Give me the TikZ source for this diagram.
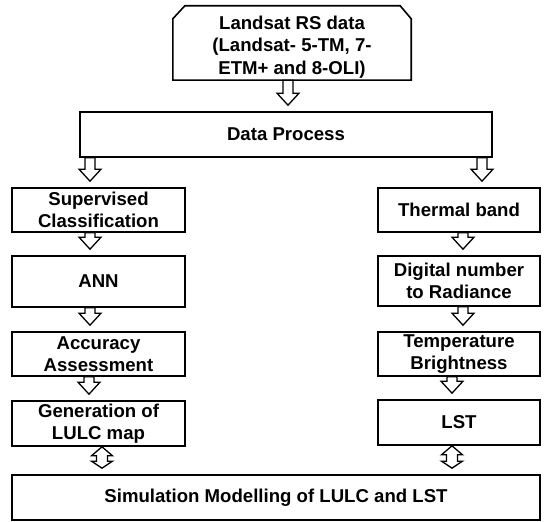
\documentclass[tikz,border=0pt]{standalone}
\usepackage{fontspec}
\setmainfont{Liberation Sans}
\usetikzlibrary{calc}
\tikzset{
  box/.style={draw=black, line width=1.6pt, fill=white, align=center, inner sep=0pt,
    font=\fontsize{18.6}{22.3}\selectfont\bfseries},
  lbl/.style={align=center, inner sep=0pt, font=\fontsize{18.6}{22.3}\selectfont\bfseries},
  blk/.style={draw=black, line width=1.3pt, fill=white, line join=miter},
}
% single block arrow: x, from node, to node
\newcommand\barrow[3]{%
  \draw[blk] let \p1=(#2.south), \p2=(#3.north) in
    (#1-5,\y1) -- (#1-5,\y2+18) -- (#1-11,\y2+18) -- (#1,\y2+6)
    -- (#1+11,\y2+18) -- (#1+5,\y2+18) -- (#1+5,\y1) -- cycle;}
% double block arrow: x, upper node, lower node
\newcommand\dbarrow[3]{%
  \draw[blk] let \p1=(#2.south), \p2=(#3.north) in
    (#1,\y1) -- (#1+10.5,\y1-9) -- (#1+5.5,\y1-9) -- (#1+5.5,\y2+13)
    -- (#1+10.5,\y2+13) -- (#1,\y2+6) -- (#1-10.5,\y2+13) -- (#1-5.5,\y2+13)
    -- (#1-5.5,\y1-9) -- (#1-10.5,\y1-9) -- cycle;}
\begin{document}
\begin{tikzpicture}[x=1pt,y=1pt]
\useasboundingbox (0,0) rectangle (550,522);
% top source box (chamfered top corners)
\node[inner sep=0pt, minimum width=238pt, minimum height=74pt] (src) at (292,479) {};
\draw[line width=1.6pt, line join=miter] (src.south west) -- ($(src.north west)+(0,-13)$)
  -- ($(src.north west)+(12,0)$) -- ($(src.north east)+(-11,0)$)
  -- ($(src.north east)+(0,-13)$) -- (src.south east) -- cycle;
\node[lbl] (srct) at ($(src.center)+(0,-4)$) {Landsat RS data\\(Landsat- 5-TM, 7-\\ETM+ and 8-OLI)};
\node[box, minimum width=412pt, minimum height=45pt] (dp) at (286,387.5) {Data Process};
% left column
\node[box, minimum width=173pt, minimum height=44pt] (sc) at (98.5,312) {Supervised\\Classification};
\node[box, minimum width=173pt, minimum height=51pt] (ann) at (98.5,240.5) {ANN};
\node[box, minimum width=173pt, minimum height=44pt] (acc) at (98.5,168) {Accuracy\\Assessment};
\node[box, minimum width=173pt, minimum height=45pt] (gen) at (98.5,98.5) {Generation of\\LULC map};
% right column
\node[box, minimum width=162pt, minimum height=44pt] (tb) at (459,312) {Thermal band};
\node[box, minimum width=162pt, minimum height=50pt] (dn) at (459,241) {Digital number\\to Radiance};
\node[box, minimum width=162pt, minimum height=44pt] (tmp) at (459,168) {Temperature\\Brightness};
\node[box, minimum width=162pt, minimum height=45pt] (lst) at (459,99.5) {LST};
% bottom
\node[box, minimum width=528pt, minimum height=45pt] (sim) at (276,24.5) {Simulation Modelling of LULC and LST};
% arrows
\barrow{288}{src}{dp}
\barrow{90}{dp}{sc}
\barrow{482}{dp}{tb}
\barrow{90}{sc}{ann}
\barrow{90}{ann}{acc}
\barrow{89}{acc}{gen}
\barrow{463}{tb}{dn}
\barrow{463}{dn}{tmp}
\barrow{452}{tmp}{lst}
\dbarrow{102}{gen}{sim}
\dbarrow{452}{lst}{sim}
\end{tikzpicture}
\end{document}
